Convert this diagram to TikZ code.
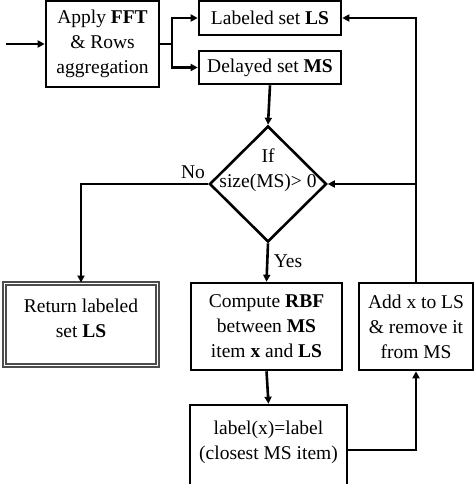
\documentclass[tikz,border=0pt]{standalone}
\usepackage{fontspec}
\setmainfont{Liberation Serif}
\usetikzlibrary{shapes.geometric,arrows.meta}
\begin{document}
\begin{tikzpicture}[x=1pt,y=-1pt,
  line width=2.6pt,
  every node/.style={font=\fontsize{19.5}{25}\selectfont},
  boxnode/.style={draw,rectangle,inner sep=0pt,align=center,line join=miter},
  arr/.style={-{Triangle[length=7pt,width=7pt]}},
  plain/.style={draw=none,inner sep=0pt,align=center}]
\useasboundingbox (0,0) rectangle (474,484);
\clip (0,0) rectangle (474,484);
% boxes
\node[boxnode,minimum width=113pt,minimum height=86pt] (apply) at (102.5,44) {Apply \textbf{FFT}\\\& Rows\\aggregation};
\node[boxnode,minimum width=142pt,minimum height=34pt] (ls) at (270,18) {Labeled set \textbf{LS}};
\node[boxnode,minimum width=142pt,minimum height=33pt] (ms) at (270,67.5) {Delayed set \textbf{MS}};
\node[draw,diamond,inner sep=0pt,minimum width=117pt,minimum height=116pt] (dia) at (268,184) {};
\node[plain] (diatxt) at (268,170) {If\\size(MS)> 0};
\node[boxnode,draw=black!70,double=white,double distance=1.4pt,line width=1.9pt,minimum width=153pt,minimum height=82pt] (ret) at (81,324.5) {};
\node[plain] (rettxt) at (81,318) {Return labeled\\set \textbf{LS}};
\node[boxnode,minimum width=151pt,minimum height=87pt] (comp) at (266.5,326.5) {Compute \textbf{RBF}\\between \textbf{MS}\\item \textbf{x} and \textbf{LS}};
\node[boxnode,minimum width=114pt,minimum height=87pt] (add) at (416,326.5) {Add x to LS\\\& remove it\\from MS};
\node[boxnode,minimum width=157pt,minimum height=90pt] (lab) at (268.5,450) {};
\node[plain] (labtxt) at (268.5,442) {label(x)=label\\(closest MS item)};
\node[plain] (no) at (193,172) {No};
\node[plain] (yes) at (288,261) {Yes};
% connectors
\coordinate (start) at (6,44);
\coordinate (split) at (172,44);
\draw[arr] (start) -- (apply.west);
\draw (apply.east) -- (split);
\draw[arr] (split) |- (ls.west);
\draw[arr] (split) |- (ms.west);
\draw[arr] (ms.south) -- (dia.north);
\draw[arr] (dia.west) -| (ret.north);
\draw[arr] (dia.south) -- (comp.north);
\draw[arr] (comp.south) -- (lab.north);
\draw[arr] (lab.east) -| (add.south);
\draw[arr] (add.north) -- (add.north |- ls.east) -- (ls.east);
\draw[arr] (add.north |- dia.east) -- (dia.east);
\end{tikzpicture}
\end{document}
